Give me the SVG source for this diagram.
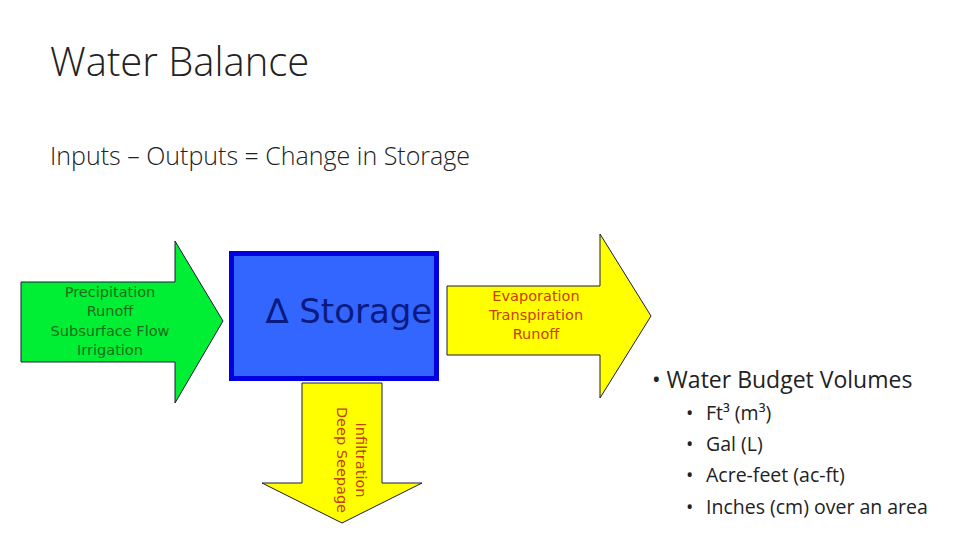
<svg xmlns="http://www.w3.org/2000/svg" width="960" height="540" viewBox="0 0 960 540">
<style>
.t{font-family:"Open Sans","Liberation Sans",sans-serif;fill:#222}
.a{font-family:"DejaVu Sans",sans-serif;font-size:14.5px;text-anchor:middle}
.g{fill:#1a6e1a}.r{fill:#c8400a}
.ar{stroke:#1a1a40;stroke-width:1}
</style>
<rect width="960" height="540" fill="#fff"/>
<text class="t" x="50" y="76" font-size="40" font-weight="300">Water Balance</text>
<text class="t" x="50" y="165" font-size="25" font-weight="300">Inputs – Outputs = Change in Storage</text>
<g id="inputs">
<polygon class="ar" fill="#00ee33" points="21,282 175,282 175,241 223,321 175,403 175,362 21,362"/>
<text class="a g" x="110" y="297">Precipitation</text>
<text class="a g" x="110" y="316">Runoff</text>
<text class="a g" x="110" y="336">Subsurface Flow</text>
<text class="a g" x="110" y="355">Irrigation</text>
</g>
<g id="storage">
<rect x="231.5" y="253.5" width="205" height="125" fill="#3366ff" stroke="#0000e0" stroke-width="5"/>
<text x="349" y="323" font-family="'DejaVu Sans',sans-serif" font-size="34" fill="#0a1a80" text-anchor="middle">∆ Storage</text>
</g>
<g id="outputs">
<polygon class="ar" fill="#ffff00" points="447,286 600,286 600,234 651,316 600,398 600,355 447,355"/>
<text class="a r" x="536" y="301">Evaporation</text>
<text class="a r" x="536" y="320">Transpiration</text>
<text class="a r" x="536" y="339">Runoff</text>
</g>
<g id="seepage">
<polygon class="ar" fill="#ffff00" points="302,383 382,383 382,483 422,483 342,523 262,483 302,483"/>
<text class="a r" transform="translate(356,460) rotate(90)" x="0" y="0">Infiltration</text>
<text class="a r" transform="translate(337,460) rotate(90)" x="0" y="0">Deep Seepage</text>
</g>
<g id="connectors"></g>
<g id="notes" class="t">
<text x="652" y="388" font-size="23">• Water Budget Volumes</text>
<g font-size="19.5">
<text x="686" y="420">•</text><text x="706" y="420">Ft³ (m³)</text>
<text x="686" y="451">•</text><text x="706" y="451">Gal (L)</text>
<text x="686" y="482">•</text><text x="706" y="482">Acre-feet (ac-ft)</text>
<text x="686" y="514">•</text><text x="706" y="514">Inches (cm) over an area</text>
</g>
</g>
</svg>
